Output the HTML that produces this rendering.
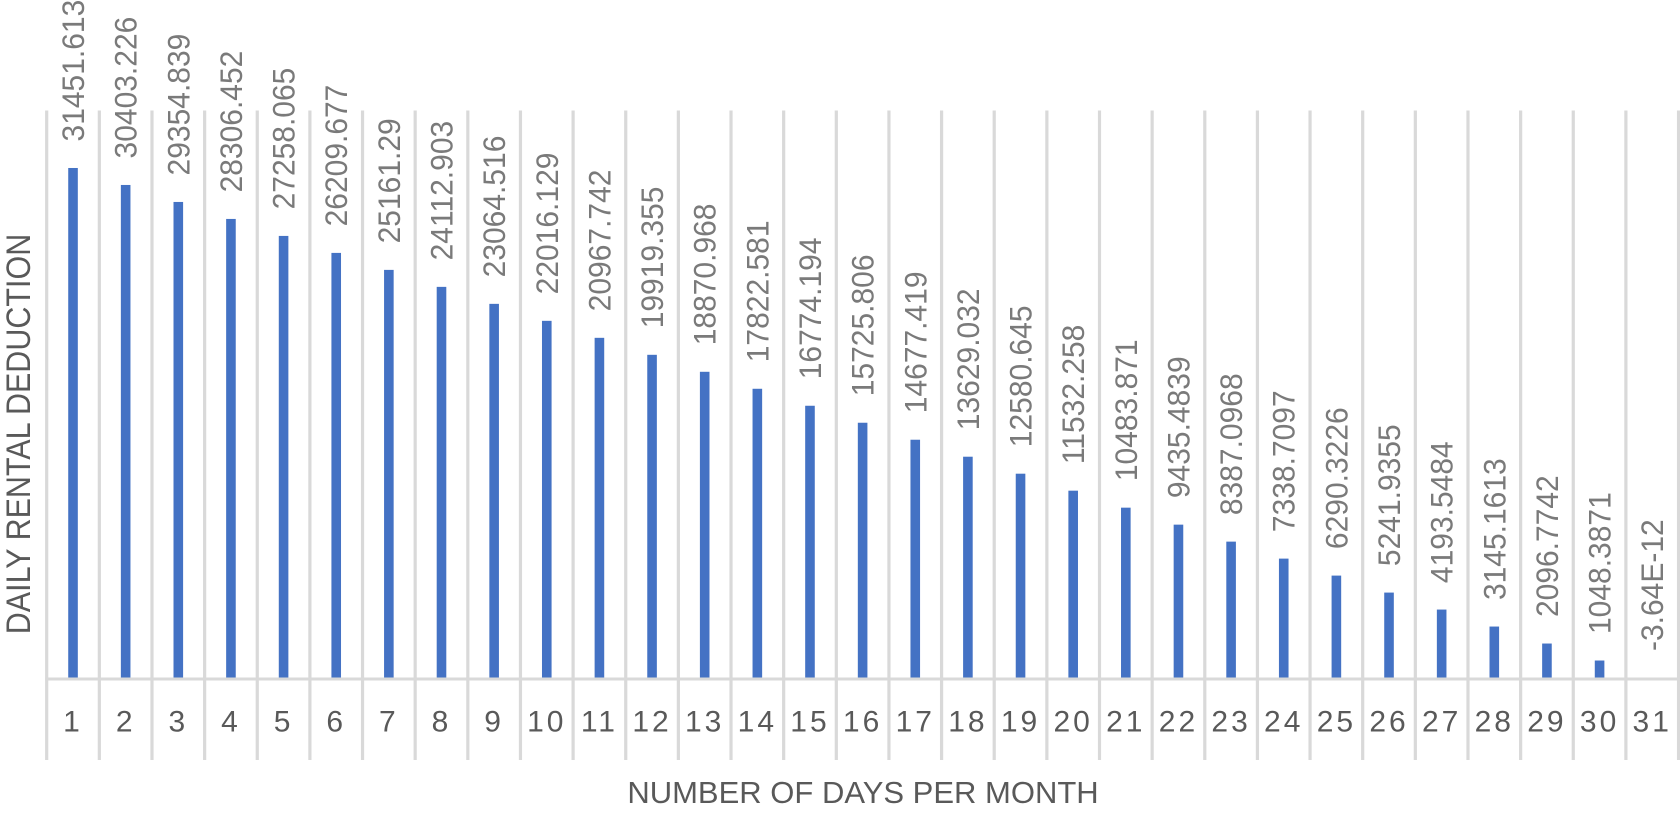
<!DOCTYPE html>
<html><head><meta charset="utf-8"><style>
html,body{margin:0;padding:0;background:#fff;}
svg{display:block;}
text{font-family:"Liberation Sans",Arial,sans-serif;}
</style></head><body>
<svg id="c" width="1680" height="814" viewBox="0 0 1680 814" xmlns="http://www.w3.org/2000/svg">
<rect width="1680" height="814" fill="#fff"/>
<g id="grid"></g>
<g id="bars"></g>
<g id="labels" fill="#7a7a7a" font-size="30"></g>
<g id="cats" fill="#595959" font-size="30" letter-spacing="3" text-anchor="middle"></g>
<text x="863" y="803" font-size="31" fill="#595959" text-anchor="middle">NUMBER OF DAYS PER MONTH</text>
<text transform="translate(30,434) rotate(-90) scale(1,1.12)" font-size="30.5" fill="#595959" text-anchor="middle">DAILY RENTAL DEDUCTION</text>
</svg>
<script>
(function(){
var NS="http://www.w3.org/2000/svg";
var labels=["31451.613","30403.226","29354.839","28306.452","27258.065","26209.677","25161.29","24112.903","23064.516","22016.129","20967.742","19919.355","18870.968","17822.581","16774.194","15725.806","14677.419","13629.032","12580.645","11532.258","10483.871","9435.4839","8387.0968","7338.7097","6290.3226","5241.9355","4193.5484","3145.1613","2096.7742","1048.3871","-3.64E-12"];
var x0=46.7, step=52.64, base=677.5, top=110.5, max=35000;
var g=document.getElementById("grid"), b=document.getElementById("bars"), l=document.getElementById("labels"), c=document.getElementById("cats");
function el(n,a,p){var e=document.createElementNS(NS,n);for(var k in a)e.setAttribute(k,a[k]);p.appendChild(e);return e;}
for(var i=0;i<=31;i++){
  var x=x0+i*step;
  el("rect",{x:x-1.6,y:top,width:3.2,height:760-top,fill:"#d9d9d9"},g);
}
el("rect",{x:x0-1.6,y:677.5,width:1680-x0,height:3,fill:"#d9d9d9"},g);
for(var i=0;i<31;i++){
  var v=31451.613-i*1048.387097; if(i==30)v=0;
  var cx=x0+(i+0.5)*step;
  var h=v*(base-top)/max;
  var t=base-h;
  if(h>0.5) el("rect",{x:cx-4.8,y:t,width:9.6,height:h,fill:"#4472c4"},b);
  var tx=el("text",{transform:"translate("+(cx+11)+","+(t-26.5)+") rotate(-90) scale(1,1.05)"},l);
  tx.textContent=labels[i];
  var ct=el("text",{x:cx,y:731.7},c);
  ct.textContent=String(i+1);
}
})();
</script>
</body></html>
